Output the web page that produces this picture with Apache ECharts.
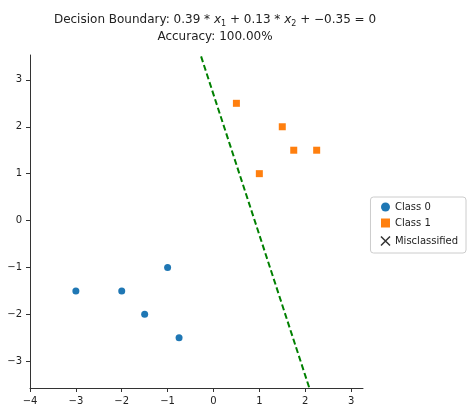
<!DOCTYPE html>
<html><head><meta charset="utf-8">
<script src="https://cdn.jsdelivr.net/npm/echarts@6/dist/echarts.min.js"></script>
<style>html,body{margin:0;padding:0;background:#fff}#c{width:474px;height:412px}</style>
</head><body><div id="c"></div>
<script>
const class0 = [[-3,-1.5],[-2,-1.5],[-1.5,-2],[-1,-1],[-0.75,-2.5]];
const class1 = [[0.5,2.5],[1,1],[1.5,2],[1.75,1.5],[2.25,1.5]];
const misclassified = [];
const boundary = [[-0.27,3.5],[2.09,-3.57]];
const xTicks = [-4,-3,-2,-1,0,1,2,3];
const yTicks = [-3,-2,-1,0,1,2,3];
const F = 'DejaVu Sans';
const xPath = 'path://M0,0L10,10M10,0L0,10';
const fmt = v=>String(Math.round(v)).replace('-','−');
const chart = echarts.init(document.getElementById('c'));
chart.setOption({
  animation:false,
  title:{left:210,top:6,textAlign:'center',
    text:'{n|Decision Boundary: 0.39 * }{i|x}{s|1}{n| + 0.13 * }{i|x}{s|2}{n| + −0.35 = 0}\n{n|Accuracy: 100.00%}',
    textStyle:{fontWeight:'normal',rich:{
      n:{fontFamily:F,fontSize:12,fontWeight:'normal',color:'#222',lineHeight:17},
      i:{fontFamily:F,fontSize:12,fontWeight:'normal',fontStyle:'italic',color:'#222',lineHeight:17},
      s:{fontFamily:F,fontSize:8,fontWeight:'normal',color:'#222',verticalAlign:'bottom',padding:[5,0,0,0],lineHeight:17}}}},
  grid:{left:30,right:111,top:55,bottom:24},
  xAxis:{type:'value',min:-4,max:3.26,
    axisLine:{onZero:false,lineStyle:{color:'#333'}},
    axisTick:{show:true,length:4,customValues:xTicks,lineStyle:{color:'#333'}},
    splitLine:{show:false},
    axisLabel:{fontFamily:F,fontSize:10,color:'#222',customValues:xTicks,formatter:fmt}},
  yAxis:{type:'value',min:-3.57,max:3.53,
    axisLine:{show:true,onZero:false,lineStyle:{color:'#333'}},
    axisTick:{show:true,length:4,customValues:yTicks,lineStyle:{color:'#333'}},
    splitLine:{show:false},
    axisLabel:{fontFamily:F,fontSize:10,color:'#222',customValues:yTicks,formatter:fmt}},
  legend:{right:8,top:197,orient:'vertical',itemWidth:9,itemHeight:9,itemGap:6,
    borderColor:'#ccc',borderWidth:1,borderRadius:3,padding:[5,8,5,8],
    textStyle:{fontFamily:F,fontSize:10,color:'#222'},
    data:[{name:'Class 0',icon:'circle'},{name:'Class 1',icon:'rect'},
      {name:'Misclassified',icon:xPath,itemStyle:{color:'none',borderColor:'#000',borderWidth:1.5}}]},
  series:[
    {name:'Class 0',type:'scatter',symbol:'circle',symbolSize:7,itemStyle:{color:'#1f77b4',opacity:1},data:class0},
    {name:'Class 1',type:'scatter',symbol:'rect',symbolSize:7,itemStyle:{color:'#ff7f0e',opacity:1},data:class1},
    {name:'Misclassified',type:'scatter',symbol:xPath,symbolSize:10,itemStyle:{color:'none',borderColor:'#000',borderWidth:1.5},data:misclassified},
    {name:'Boundary',type:'line',showSymbol:false,lineStyle:{color:'#008000',type:[6,3],width:2},data:boundary}
  ]
});
</script></body></html>
